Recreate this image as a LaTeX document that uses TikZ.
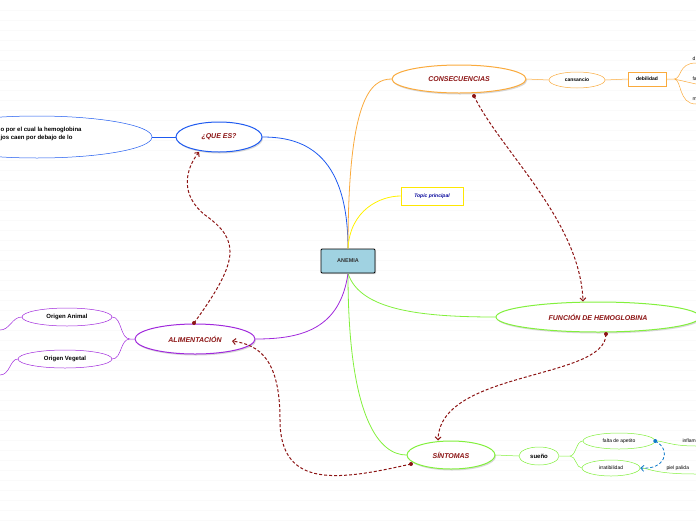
\documentclass[tikz,border=0pt]{standalone}
\usepackage{fontspec}
\setmainfont{Liberation Sans}
\usetikzlibrary{shapes.geometric,arrows.meta,shadows}
\definecolor{dred}{RGB}{140,20,20}
\definecolor{org}{RGB}{250,170,60}
\definecolor{grn}{RGB}{130,240,60}
\definecolor{pur}{RGB}{160,40,220}
\definecolor{blu}{RGB}{30,90,240}
\definecolor{cbox}{RGB}{160,210,225}
\tikzset{
 el/.style={ellipse,draw,fill=white,inner sep=0pt,line width=#1},
 main/.style={el=1pt,font=\bfseries\itshape\fontsize{7}{8}\selectfont,text=dred,drop shadow={shadow xshift=1pt,shadow yshift=-1.5pt,fill=gray!60}},
 sub/.style={el=0.5pt,font=\bfseries\fontsize{6}{7}\selectfont},
 leaf/.style={el=0.5pt,font=\fontsize{5}{6}\selectfont},
 dl/.style={dred,densely dashed,line width=1pt,-{Straight Barb[length=3pt]}},
 br/.style={line width=0.8pt}
}
\begin{document}
\begin{tikzpicture}[x=1pt,y=-1pt]
\useasboundingbox (0,0) rectangle (696,520);
\clip (0,0) rectangle (696,520);
\foreach \y in {10,20,...,520} \draw[gray!4,line width=0.4pt] (0,\y)--(696,\y);
% center
\node[draw,fill=cbox,rounded corners=1pt,minimum width=54pt,minimum height=24pt,line width=0.8pt,font=\bfseries\fontsize{5.5}{6}\selectfont,text=black!80,drop shadow={shadow xshift=1pt,shadow yshift=-1pt,fill=gray!60}] (an) at (348,261) {ANEMIA};
% main nodes
\node[main,draw=org,minimum width=134pt,minimum height=28pt] (con) at (459,79) {CONSECUENCIAS};
\node[main,draw=grn,minimum width=204pt,minimum height=30pt] (fun) at (598,317) {FUNCIÓN DE HEMOGLOBINA};
\node[main,draw=grn,minimum width=88pt,minimum height=28pt] (sin) at (451,455) {SÍNTOMAS};
\node[main,draw=blu,minimum width=86pt,minimum height=30pt] (que) at (219,137) {¿QUE ES?};
\node[main,draw=pur,minimum width=120pt,minimum height=30pt] (ali) at (195,339) {ALIMENTACIÓN};
\node[draw=yellow!90!orange,fill=white,line width=0.6pt,minimum width=62pt,minimum height=18pt,font=\bfseries\itshape\fontsize{5}{6}\selectfont,text=blue!60!black,drop shadow={shadow xshift=1pt,shadow yshift=-1pt,fill=gray!40}] (top) at (432,196) {Topic principal};
% main branches
\draw[blu,br] (an.north) .. controls (348,150) and (300,137) .. (que.east);
\draw[org,br] (an.north) .. controls (348,100) and (370,79) .. (con.west);
\draw[yellow,br] (an.north) .. controls (350,210) and (380,196) .. (top.west);
\draw[grn,br] (an.south) .. controls (360,310) and (420,317) .. (fun.west);
\draw[grn,br] (an.south) .. controls (348,420) and (380,455) .. (sin.west);
\draw[pur,br] (an.south) .. controls (340,330) and (300,339) .. (ali.east);
% consecuencias children
\node[sub,draw=org,minimum width=56pt,minimum height=16pt,font=\bfseries\fontsize{5}{6}\selectfont] (can) at (577,80) {cansancio};
\node[draw=org,fill=white,line width=0.5pt,minimum width=38pt,minimum height=14pt,inner sep=0pt,font=\bfseries\fontsize{5}{6}\selectfont] (deb) at (647,79) {debilidad};
\draw[org,line width=0.5pt] (con.east)--(can.west) (can.east)--(deb.west);
\coordinate (d1) at (696,63); \coordinate (d2) at (696,84); \coordinate (d3) at (696,104);
\draw[org,line width=0.5pt] (deb.east)--(674,79) .. controls (682,79) and (678,63) .. (d1)
 (674,79)--(d2) (674,79) .. controls (682,79) and (678,104) .. (d3);
\node[font=\fontsize{5}{6}\selectfont,anchor=west] (t1) at (689,59) {d};
\node[font=\fontsize{5}{6}\selectfont,anchor=west] (t2) at (689,79) {fa};
\node[font=\fontsize{5}{6}\selectfont,anchor=west] (t3) at (689,99) {m};
% que es child
\node[el=0.5pt,draw=blu,minimum width=230pt,minimum height=42pt] (def) at (37,137) {};
\node[font=\bfseries\fontsize{6}{8}\selectfont,align=left,anchor=west] (deft) at (-3,134) {o por el cual la hemoglobina\\jos caen por debajo de lo};
\draw[blu,line width=0.5pt] (def.east)--(que.west);
% alimentacion children
\node[sub,draw=pur,minimum width=90pt,minimum height=18pt] (oa) at (67,317) {Origen Animal};
\node[sub,draw=pur,minimum width=94pt,minimum height=18pt] (ov) at (65,359) {Origen Vegetal};
\draw[pur,line width=0.5pt] (ali.west)--(130,339) .. controls (120,339) and (122,317) .. (oa.east)
 (130,339) .. controls (120,339) and (122,359) .. (ov.east);
\coordinate (l1) at (0,330); \coordinate (l2) at (0,375);
\draw[pur,line width=0.5pt] (oa.west) .. controls (12,317) and (10,330) .. (l1);
\draw[pur,line width=0.5pt] (ov.west) .. controls (10,359) and (10,375) .. (l2);
% sintomas children
\node[sub,draw=grn,minimum width=40pt,minimum height=18pt] (sue) at (539,456) {sueño};
\node[leaf,draw=grn,minimum width=72pt,minimum height=16pt] (fal) at (619,441) {falta de apetito};
\node[leaf,draw=grn,minimum width=58pt,minimum height=16pt] (irr) at (611,468) {irratibilidad};
\draw[grn,line width=0.5pt] (sin.east)--(sue.west) (sue.east)--(570,456) .. controls (576,456) and (576,441) .. (fal.west)
 (570,456) .. controls (576,456) and (576,468) .. (irr.west);
\draw[grn,line width=0.5pt] (fal.east) .. controls (665,441) and (670,446) .. (696,446);
\draw[grn,line width=0.5pt] (irr.east) .. controls (650,468) and (652,474) .. (696,474);
\node[font=\fontsize{5}{6}\selectfont,anchor=west] (inf) at (679,441) {inflam};
\node[font=\fontsize{5}{6}\selectfont,anchor=west] (pie) at (663,468) {piel palida};
% blue dashed relation
\fill[cyan!60!blue] (fal.east) circle (2pt);
\draw[cyan!60!blue,densely dashed,line width=0.8pt,-{Straight Barb[length=3pt]}] (fal.east) .. controls (672,450) and (665,470) .. (irr.east);
% dark red relations
\fill[dred] (474,96) circle (2pt);
\draw[dl] (474,96) .. controls (500,150) and (580,220) .. (fun.north -| 583,0);
\fill[dred] (606,334) circle (2pt);
\draw[dl] (606,334) .. controls (606,380) and (440,370) .. (sin.north -| 438,0);
\fill[dred] (411,464) circle (2pt);
\draw[dl] (411,464) .. controls (340,480) and (280,490) .. (280,420) .. controls (280,360) and (260,345) .. (232,341);
\fill[dred] (194,323) circle (2pt);
\draw[dl] (194,323) .. controls (240,260) and (240,240) .. (205,215) .. controls (180,195) and (185,170) .. (199,152);
\end{tikzpicture}
\end{document}
